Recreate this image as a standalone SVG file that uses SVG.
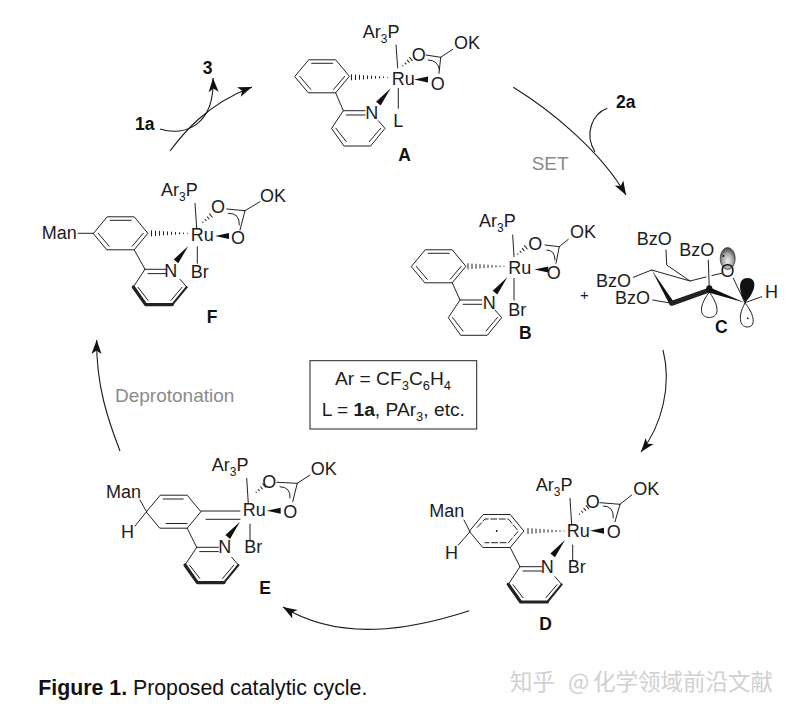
<svg xmlns="http://www.w3.org/2000/svg" xmlns:xlink="http://www.w3.org/1999/xlink" width="792" height="715" viewBox="0 0 792 715">
<style>
text{font-family:"Liberation Sans",Arial,sans-serif;font-size:18px;fill:#1c1c1c}
.b{font-weight:bold;font-size:17.5px;fill:#111}
.g{fill:#8a8a8a;font-size:19px}
.s{font-size:12px}
.lg{font-size:19.2px}
.ls{font-size:13px}
.l{fill:none;stroke:#222;stroke-width:1;stroke-linecap:round;stroke-linejoin:round}
.h{fill:none;stroke:#222;stroke-width:1}
.f{fill:#111;stroke:none}
.a{fill:none;stroke:#1a1a1a;stroke-width:1.1}
.wm{font-family:"Noto Sans CJK SC",sans-serif;font-size:22.5px;fill:#d0d0d0}
.cap{font-size:21.3px;fill:#111}
</style>
<defs>
<marker id="arr" markerUnits="userSpaceOnUse" markerWidth="15" markerHeight="11" refX="14" refY="5" orient="auto" overflow="visible"><path d="M14,5 L0,0 L3.5,5 L0,10 Z" fill="#111"/></marker>
<path id="hashL" class="h" d="M-2,-.4V.4M-6,-.7V.7M-10,-1V1M-14,-1.3V1.3M-18,-1.6V1.6M-22,-1.8V1.8M-26,-2.1V2.1M-30,-2.4V2.4M-34,-2.7V2.7M-38,-3V3"/>
<path id="hashS" class="h" d="M-1.5,-.7V.7M-5,-1.2V1.2M-8.5,-1.8V1.8M-12,-2.5V2.5"/>
<polygon id="wN" class="f" points="0,0 -10,17.2 -14.6,13.4"/>
<polygon id="wO" class="f" points="0,0 14,-3 14,3"/>
<path id="hex" class="l" d="M-27.2,0L-13.5,-16.5H13.5L27.2,0L13.5,16.5H-13.5Z"/>
<path id="inner" class="l" d="M-10.5,-13H10.5M-22.5,0L-11.5,13M22.5,0L11.5,13"/>
<path id="py" class="l" d="M0,0H21.7M3,4.3H21.7M35,10L41.7,17.7L27.3,35.3H.7L-11.7,17.7L0,0M-7.5,17.5L3,31M37.5,17.5L26,31"/>
<g id="pyb"><path class="l" d="M0,0H21.7M3,4.3H21.7M35,10L41.7,17.7M-11.7,17.7L0,0M3,31L-7,18M37,18L26,31"/><path class="l" style="stroke-width:2" d="M41.7,17.7L27.3,35.3"/><path class="l" style="stroke-width:3.2" d="M-11.7,17.7L.7,35.3H27.3"/></g>
<radialGradient id="lobe" cx="50%" cy="62%" r="60%"><stop offset="0" stop-color="#eeeeee"/><stop offset=".55" stop-color="#aaaaaa"/><stop offset="1" stop-color="#444444"/></radialGradient>
</defs>
<rect width="792" height="715" fill="#fff"/>

<g id="connectors">
<path class="a" marker-end="url(#arr)" d="M170,151 C182,135 205,105 252,87"/>
<path class="a" marker-end="url(#arr)" d="M160,129 C185,137 215,125 213,78"/>
<path class="a" marker-end="url(#arr)" d="M513.3,87.3 C550,110 600,150 626,195"/>
<path class="a" d="M607.3,108.3 C592,114 584,134 595,152"/>
<path class="a" marker-end="url(#arr)" d="M663,350 C672,385 662,425 641,452"/>
<path class="a" marker-end="url(#arr)" d="M469.3,610.7 C410,630 340,642 283,607"/>
<path class="a" marker-end="url(#arr)" d="M120,451 C108,420 96,385 96.7,340"/>
</g>
<g id="connector-labels">
<text class="b" x="135" y="130">1a</text>
<text class="b" x="202.7" y="74">3</text>
<text class="b" x="616" y="108.3">2a</text>
<text class="g" x="531.7" y="170">SET</text>
<text class="g" x="115" y="401.7">Deprotonation</text>
</g>

<g id="node-A">
<use href="#hex" x="322.2" y="76.3"/><use href="#inner" x="322.2" y="76.3"/>
<use href="#py" x="343.3" y="110.7"/>
<path class="l" d="M335.7,92.8L343.3,110.7M396,45L397.7,68M398.3,88.3V108.3M440.7,57.3L452.7,49.3M440.7,57.3L426,55M440.7,57.3L439,73.3M428,60Q438,60 439.5,70"/>
<use href="#hashL" x="389.5" y="77.3"/>
<use href="#hashS" transform="translate(401.7,66.7) rotate(140)"/>
<use href="#wN" x="390.7" y="88.3"/><use href="#wO" x="414" y="79.5"/>
<text x="362.7" y="38">Ar<tspan class="s" dy="5">3</tspan><tspan dy="-5">P</tspan></text>
<text x="391.7" y="85">Ru</text><text x="411.7" y="60.7">O</text><text x="430.7" y="90">O</text><text x="454" y="49">OK</text>
<text x="393.3" y="126.7">L</text><text x="365.3" y="119.3">N</text>
<text class="b" x="398.3" y="160.7">A</text>
</g>

<g id="node-B">
<use href="#hex" x="438.7" y="266.3"/><use href="#inner" x="438.7" y="266.3"/>
<use href="#py" x="460" y="300"/>
<path class="l" d="M452.2,282.8L460,300M512.7,235L514,256.7M514,278.3V300M559.3,246.7L568.3,239.3M559.3,246.7L545,245M559.3,246.7L556,263.3M546.7,250Q555,250 555,260"/>
<use href="#hashL" x="506" y="266.3"/>
<use href="#hashS" transform="translate(516.7,255) rotate(140)"/>
<use href="#wN" x="507.3" y="277.3"/><use href="#wO" x="534.3" y="269.5"/>
<text x="479" y="227.3">Ar<tspan class="s" dy="5">3</tspan><tspan dy="-5">P</tspan></text>
<text x="508.3" y="274">Ru</text><text x="528.3" y="250">O</text><text x="546.7" y="279">O</text><text x="570" y="238.3">OK</text>
<text x="508.3" y="316">Br</text><text x="482.7" y="309">N</text>
<text class="b" x="519" y="339.3">B</text>
</g>

<g id="node-C">
<text x="580" y="300" style="font-size:15px">+</text>
<ellipse cx="727.7" cy="258.5" rx="7.5" ry="11" fill="url(#lobe)" stroke="#444" stroke-width=".8"/>
<circle cx="723.5" cy="256" r="1" fill="#111"/>
<path d="M709.3,292C696,310 702,317.5 709.3,317.5C717,317.5 722,310 709.3,292Z" fill="#fff" stroke="#222"/>
<path d="M745,303C738,315 739,327 747.5,327C756,327 755,315 745,303Z" fill="#fff" stroke="#222"/>
<circle cx="747.7" cy="318.3" r=".9" fill="#111"/>
<path class="f" d="M745,302.7C738,290 738,278 747.5,278C757,278 757,290 745,302.7Z"/>
<path class="l" d="M651.7,270L690,281L706,277M712,275.5L721.7,273.3M733.3,278.3L745,302.7M690,281L666.7,265L666,250M708.3,260L709.3,290M633.3,277.3L651.7,270M652.7,300L671.7,303.3M745,302.7L761.7,296.7"/>
<polygon class="f" points="651.7,270 673.8,302 669.6,304.6"/>
<path class="l" style="stroke-width:5" d="M671.7,303.3L709.3,290"/>
<polygon class="f" points="708.5,292.4 710.1,287.6 745,302.7"/>
<circle cx="709.3" cy="288.3" r="3" fill="#111"/>
<text x="636.7" y="245">BzO</text><text x="679.3" y="255.7">BzO</text><text x="596" y="286.7">BzO</text><text x="615" y="304">BzO</text>
<text x="720.5" y="276.7">O</text><text x="765" y="298.3">H</text>
<text class="b" x="715" y="333.3">C</text>
</g>

<g id="node-D">
<use href="#hex" x="496.7" y="531"/>
<path class="l" style="stroke-dasharray:6 2.5" d="M477.4,527.3L485,519H508.4L518.4,531L508.4,542.7H485"/>
<circle cx="496.7" cy="531" r=".9" fill="#111"/>
<use href="#pyb" x="520" y="566.7"/>
<path class="l" d="M510.2,547.5L520,566.7M470,531.7L464,520M470,531.7L458.3,545M570,498.3L571.7,525M572.7,545V560M620,504.3L631.7,495M620,504.3L600,502.7M620,504.3L615,521.7M603.3,506Q614,506 613.3,518"/>
<use href="#hashL" x="566" y="531"/>
<use href="#hashS" transform="translate(578.3,515) rotate(140)"/>
<use href="#wN" x="565" y="540"/><use href="#wO" x="590" y="530.7"/>
<text x="535.7" y="490.7">Ar<tspan class="s" dy="5">3</tspan><tspan dy="-5">P</tspan></text>
<text x="566.7" y="537">Ru</text><text x="585.7" y="508.3">O</text><text x="606.7" y="537.7">O</text><text x="633.3" y="495">OK</text>
<text x="567.7" y="573.3">Br</text><text x="540.7" y="572.7">N</text>
<text x="429.3" y="516.7">Man</text><text x="445" y="559">H</text>
<text class="b" x="539.3" y="630">D</text>
</g>

<g id="node-E">
<use href="#hex" x="173.7" y="511.7"/>
<path class="l" d="M163.2,499H183.2M166,523.5H187"/>
<use href="#pyb" x="196.7" y="547.3"/>
<path class="l" d="M187.2,528.2L196.7,547.3M146.5,511.7L140,500M146.5,511.7L135,526M200.9,511H240M206,519.3H240M246.7,478.3L248.3,503.3M250,524V540M297.3,483.3L310,475M297.3,483.3L276.7,482.3M297.3,483.3L292.7,501.7M280,486.7Q291,487 290,498"/>
<use href="#hashS" transform="translate(255,493.3) rotate(140)"/>
<use href="#wN" x="240" y="521.7"/><use href="#wO" x="266.7" y="510.7"/>
<text x="211.7" y="470.7">Ar<tspan class="s" dy="5">3</tspan><tspan dy="-5">P</tspan></text>
<text x="242.7" y="516">Ru</text><text x="262.3" y="487.7">O</text><text x="283.3" y="517.7">O</text><text x="310.7" y="475">OK</text>
<text x="244.3" y="553.3">Br</text><text x="218.3" y="552.7">N</text>
<text x="106" y="497.7">Man</text><text x="121" y="538.3">H</text>
<text class="b" x="259.3" y="594">E</text>
</g>

<g id="node-F">
<use href="#hex" x="120.7" y="233.3"/><use href="#inner" x="120.7" y="233.3"/>
<use href="#pyb" x="145" y="269.3"/>
<path class="l" d="M134.2,249.8L145,269.3M78,233.3H93.5M195,203.3L196.7,228.3M197.3,246.7V263.3M245,210.7L260,201.7M245,210.7L226.7,209M245,210.7L240,230M228.3,213.3Q240,213 239.3,225"/>
<use href="#hashL" x="189.5" y="233.3"/>
<use href="#hashS" transform="translate(201.7,223.3) rotate(140)"/>
<use href="#wN" x="188.3" y="246"/><use href="#wO" x="215" y="236"/>
<text x="161" y="196">Ar<tspan class="s" dy="5">3</tspan><tspan dy="-5">P</tspan></text>
<text x="190.7" y="241">Ru</text><text x="211" y="213.3">O</text><text x="231" y="244">O</text><text x="260" y="202.3">OK</text>
<text x="190.7" y="277.7">Br</text><text x="164.3" y="276.7">N</text>
<text x="41.7" y="239">Man</text>
<text class="b" x="206.7" y="323.3">F</text>
</g>

<g id="node-legend">
<rect x="310" y="360.7" width="166.7" height="68.3" fill="none" stroke="#222" stroke-width="1"/>
<text class="lg" x="335" y="385">Ar = CF<tspan class="ls" dy="5">3</tspan><tspan dy="-5">C</tspan><tspan class="ls" dy="5">6</tspan><tspan dy="-5">H</tspan><tspan class="ls" dy="5">4</tspan></text>
<text class="lg" x="321.7" y="415.7">L = <tspan font-weight="bold">1a</tspan>, PAr<tspan class="ls" dy="5">3</tspan><tspan dy="-5">, etc.</tspan></text>
</g>

<text class="cap" x="38.3" y="695"><tspan font-weight="bold">Figure 1.</tspan> Proposed catalytic cycle.</text>
<text class="wm" y="690"><tspan x="510">知乎</tspan><tspan x="568">@</tspan><tspan x="593">化学领域前沿文献</tspan></text>
</svg>
